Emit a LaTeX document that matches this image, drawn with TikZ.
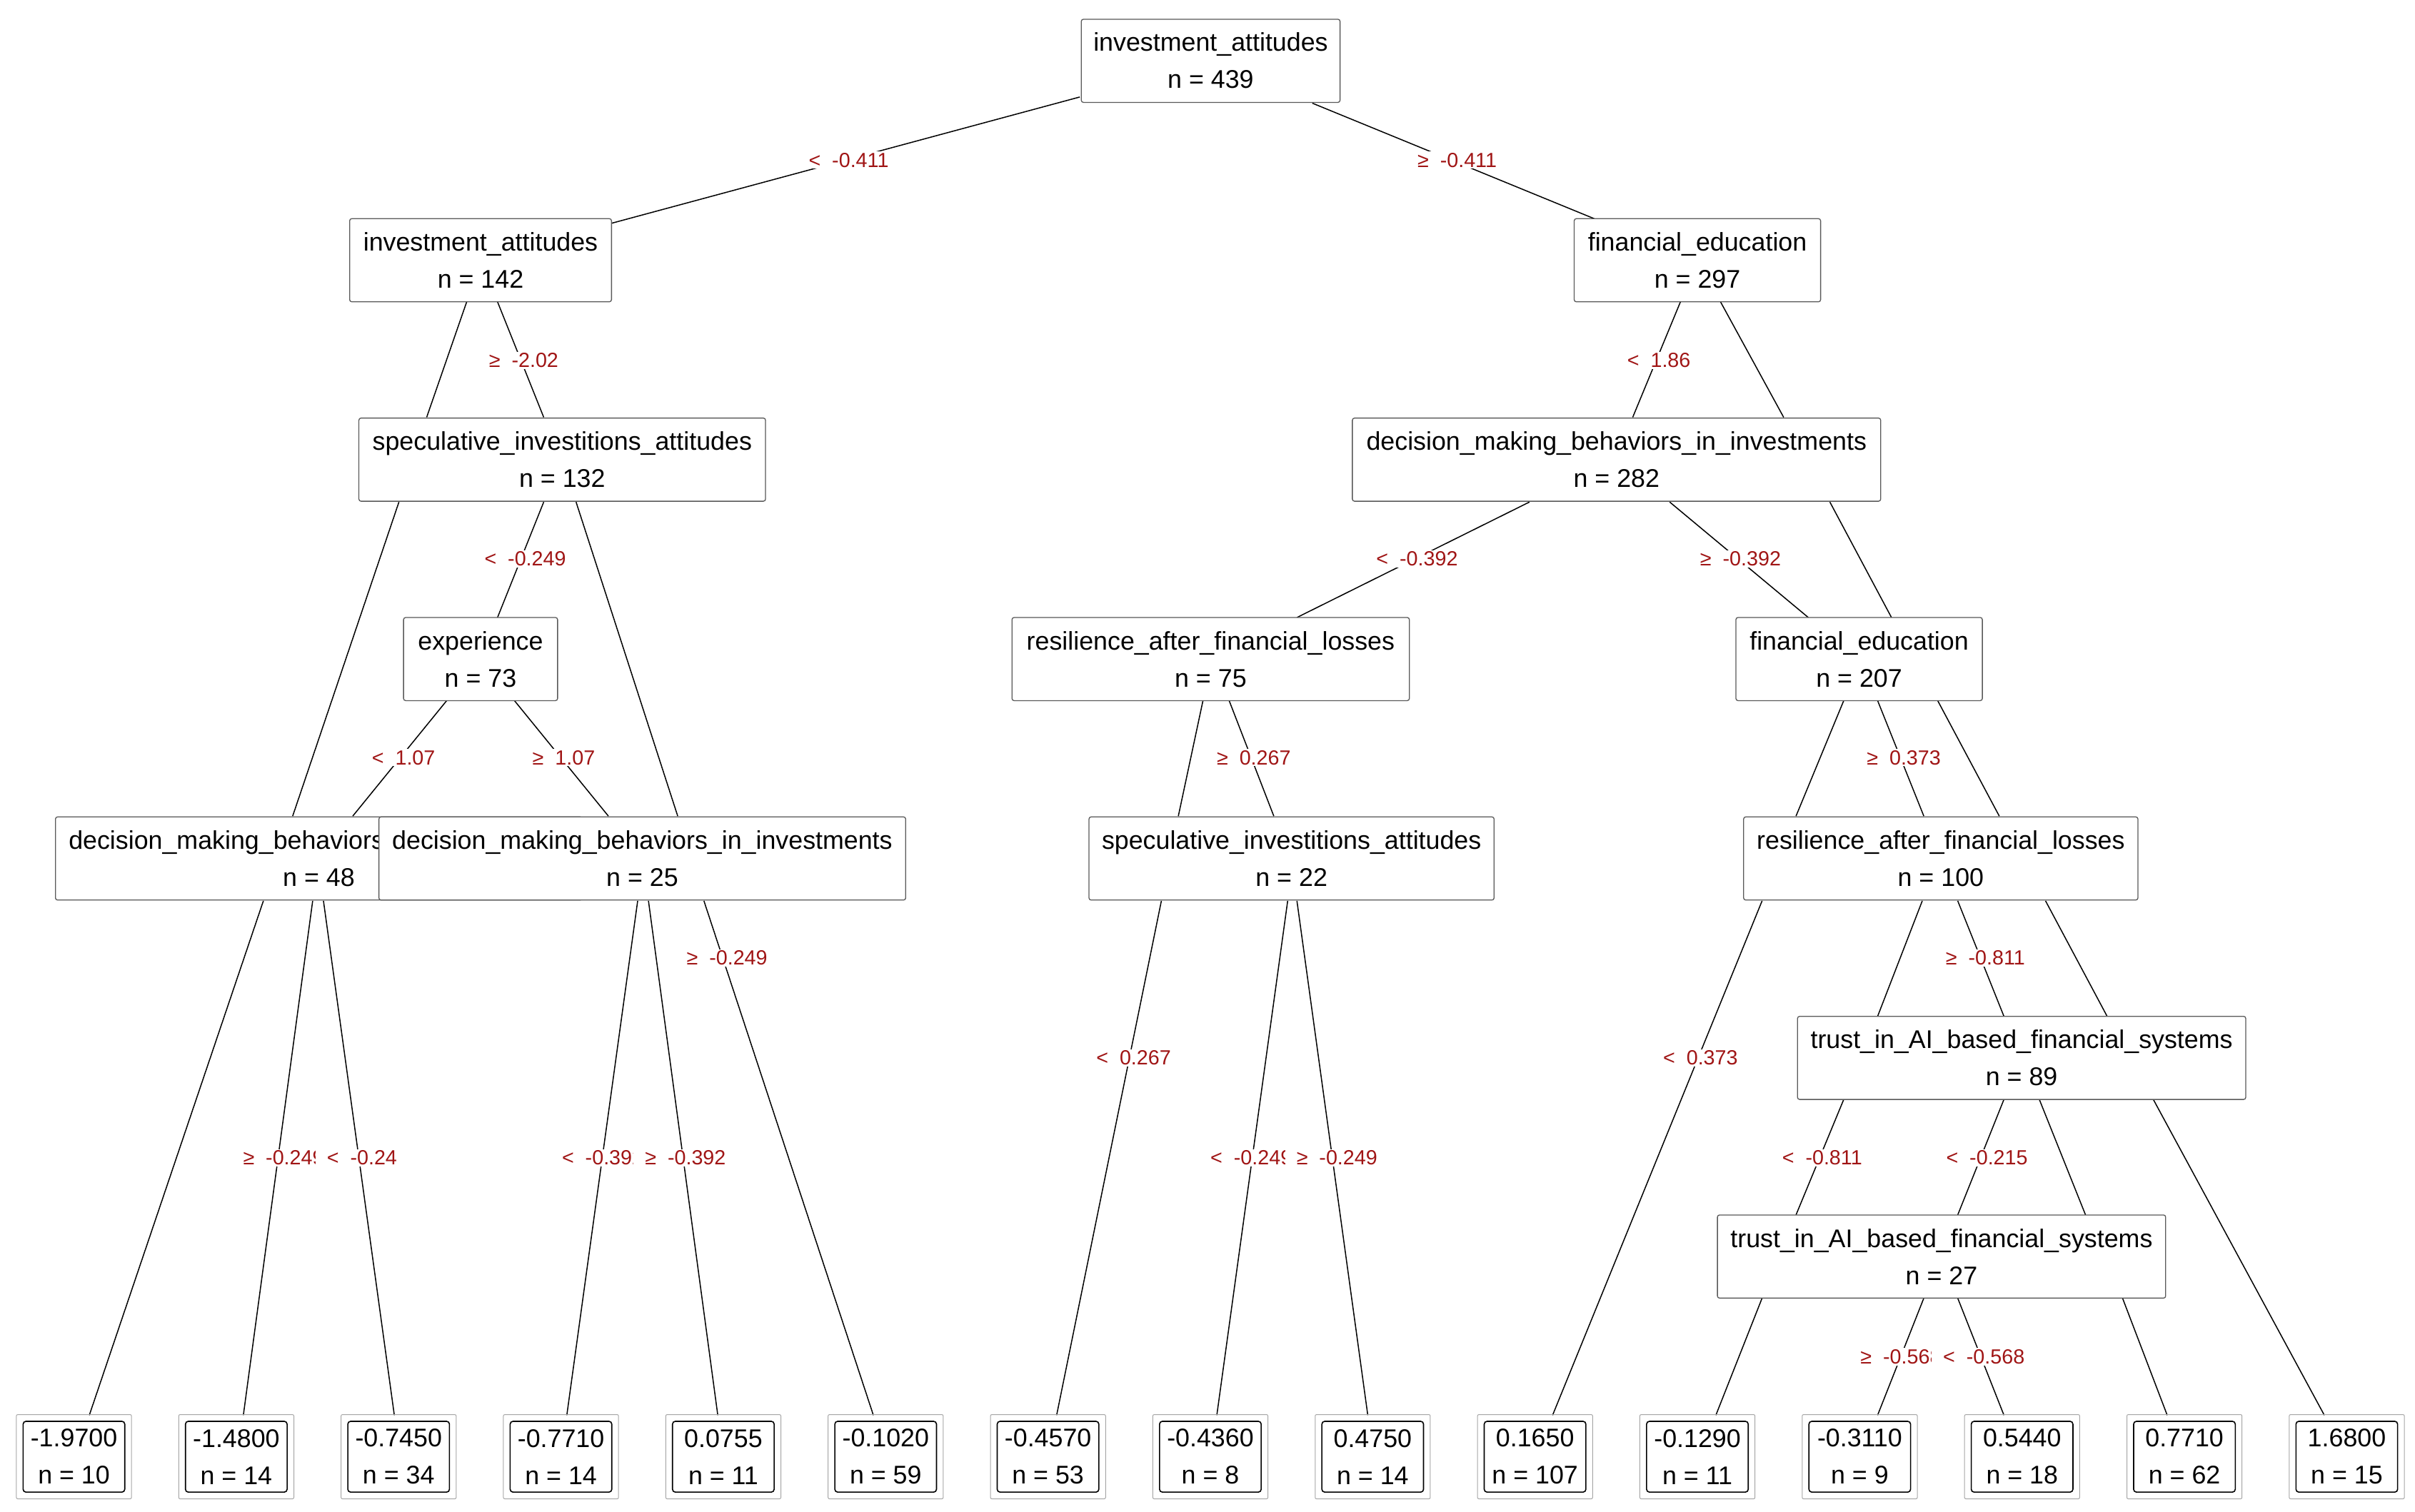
\documentclass[tikz,border=0pt]{standalone}
\usepackage{fontspec}
\setmainfont{Liberation Sans}
\definecolor{lab}{HTML}{A01515}
\tikzset{
  x=2.157pt, y=-2.157pt,
  inner/.style={draw=black!65, line width=1.3pt, rounded corners=3pt, fill=white, align=center,
    font=\fontsize{35.8}{52}\selectfont, inner sep=0pt, minimum height=54*2.157pt},
  leafbox/.style={draw=black, line width=1.6pt, rounded corners=4pt, fill=white, align=center,
    font=\fontsize{35.8}{52}\selectfont, inner sep=0pt, minimum width=66*2.157pt, minimum height=46*2.157pt},
  edge/.style={line width=1.5pt, black},
  lbl/.style={fill=white, text=lab, inner ysep=2pt, inner xsep=6pt, font=\fontsize{28.7}{30}\selectfont},
  lblcover/.style={lbl, inner xsep=16pt},
}
\begin{document}
\begin{tikzpicture}
\useasboundingbox[fill=white] (0,0) rectangle (1567.9,981.5);
% edges
\draw[edge] (701,63) -- (397,145);
\draw[edge] (852,67) -- (1035,142);
\draw[edge] (303,196) -- (277,271);
\draw[edge] (323,196) -- (353,271);
\draw[edge] (1091,196) -- (1060,271);
\draw[edge] (1117,196) -- (1158,271);
\draw[edge] (259,326) -- (190,530);
\draw[edge] (353,326) -- (323,401);
\draw[edge] (374,326) -- (440,530);
\draw[edge] (993,326) -- (842,401);
\draw[edge] (1084,326) -- (1174,401);
\draw[edge] (1188,326) -- (1228,401);
\draw[edge] (290,455) -- (229,530);
\draw[edge] (334,455) -- (395,530);
\draw[edge] (781,455) -- (765,530);
\draw[edge] (798,455) -- (827,530);
\draw[edge] (1197,455) -- (1166,530);
\draw[edge] (1219,455) -- (1249,530);
\draw[edge] (1258,455) -- (1298,530);
\draw[edge] (171,585) -- (58,919);
\draw[edge] (203,585) -- (158,919);
\draw[edge] (210,585) -- (256,919);
\draw[edge] (414,585) -- (368,919);
\draw[edge] (421,585) -- (466,919);
\draw[edge] (457,585) -- (567,919);
\draw[edge] (754,585) -- (686,919);
\draw[edge] (836,585) -- (790,919);
\draw[edge] (842,585) -- (888,919);
\draw[edge] (1144,585) -- (1008,919);
\draw[edge] (1248,585) -- (1219,660);
\draw[edge] (1271,585) -- (1301,660);
\draw[edge] (1328,585) -- (1368,660);
\draw[edge] (1197,714) -- (1166,789);
\draw[edge] (1301,714) -- (1271,789);
\draw[edge] (1324,714) -- (1354,789);
\draw[edge] (1398,714) -- (1509,919);
\draw[edge] (1144,843) -- (1114,919);
\draw[edge] (1249,843) -- (1219,919);
\draw[edge] (1271,843) -- (1301,919);
\draw[edge] (1378,843) -- (1407,919);
% inner nodes
\node[inner, minimum width=168*2.157pt] (n1) at (786,39.5) {investment\_attitudes\\n = 439};
\node[inner, minimum width=170*2.157pt] (n2) at (312,169) {investment\_attitudes\\n = 142};
\node[inner, minimum width=160*2.157pt] (n3) at (1102,169) {financial\_education\\n = 297};
\node[inner, minimum width=264*2.157pt] (n4) at (365,298.5) {speculative\_investitions\_attitudes\\n = 132};
\node[inner, minimum width=343*2.157pt] (n5) at (1049.5,298.5) {decision\_making\_behaviors\_in\_investments\\n = 282};
\node[inner, minimum width=100*2.157pt] (n6) at (312,428) {experience\\n = 73};
\node[inner, minimum width=258*2.157pt] (n7) at (786,428) {resilience\_after\_financial\_losses\\n = 75};
\node[inner, minimum width=160*2.157pt] (n8) at (1207,428) {financial\_education\\n = 207};
\node[inner, minimum width=342*2.157pt] (n9) at (207,557.5) {decision\_making\_behaviors\_in\_investments\\n = 48};
\node[inner, minimum width=342*2.157pt] (n10) at (417,557.5) {decision\_making\_behaviors\_in\_investments\\n = 25};
\node[inner, minimum width=263*2.157pt] (n11) at (838.5,557.5) {speculative\_investitions\_attitudes\\n = 22};
\node[inner, minimum width=256*2.157pt] (n12) at (1260,557.5) {resilience\_after\_financial\_losses\\n = 100};
\node[inner, minimum width=291*2.157pt] (n13) at (1312.5,687) {trust\_in\_AI\_based\_financial\_systems\\n = 89};
\node[inner, minimum width=291*2.157pt] (n14) at (1260.5,816) {trust\_in\_AI\_based\_financial\_systems\\n = 27};
% leaves
\foreach \v/\n [count=\i from 0] in {-1.9700/10,-1.4800/14,-0.7450/34,-0.7710/14,0.0755/11,-0.1020/59,-0.4570/53,-0.4360/8,0.4750/14,0.1650/107,-0.1290/11,-0.3110/9,0.5440/18,0.7710/62,1.6800/15}{
  \node[leafbox] (L\i) at (48+105.4*\i,946) {\v\\n = \n};
  \draw[black!35, line width=1pt, rounded corners=2pt] ([shift={(-4,-4)}]L\i.north west) rectangle ([shift={(4,4)}]L\i.south east);
}
% labels
\node[lbl] at (551,104) {<~ -0.411};
\node[lbl] at (946,104) {≥~ -0.411};
\node[lbl] at (340,234) {≥~ -2.02};
\node[lbl] at (1077,234) {<~ 1.86};
\node[lbl] at (341,363) {<~ -0.249};
\node[lbl] at (920,363) {<~ -0.392};
\node[lbl] at (1130,363) {≥~ -0.392};
\node[lbl] at (262,492) {<~ 1.07};
\node[lbl] at (366,492) {≥~ 1.07};
\node[lbl] at (814,492) {≥~ 0.267};
\node[lbl] at (1236,492) {≥~ 0.373};
\node[lbl] at (472,622) {≥~ -0.249};
\node[lbl] at (1289,622) {≥~ -0.811};
\node[lbl] at (736,687) {<~ 0.267};
\node[lbl] at (1104,687) {<~ 0.373};
\node[lbl] at (1183,752) {<~ -0.811};
\node[lbl] at (1290,752) {<~ -0.215};
\node[lbl, anchor=west] at (155,752) {≥~ -0.249};
\node[lblcover] at (235,752) {<~ -0.24};
\node[lbl, anchor=west] at (362,752) {<~ -0.392};
\node[lblcover] at (445,752) {≥~ -0.392};
\node[lbl, anchor=west] at (783,752) {<~ -0.249};
\node[lblcover] at (868,752) {≥~ -0.249};
\node[lbl, anchor=west] at (1205,881) {≥~ -0.568};
\node[lblcover] at (1288,881) {<~ -0.568};
\end{tikzpicture}
\end{document}
